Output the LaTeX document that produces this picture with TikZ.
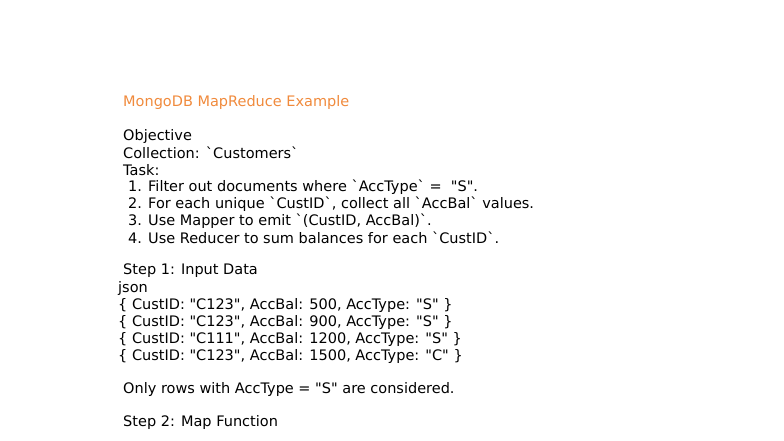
\documentclass[tikz,border=0pt]{standalone}
\usepackage{fontspec}
\newfontfamily\plain{DejaVu Sans}
\definecolor{ttl}{HTML}{F08A3C}
\begin{document}
\begin{tikzpicture}[x=1pt,y=-1pt,
  txt/.style={anchor=west,inner sep=0pt,font=\plain\fontsize{14.5}{16}\selectfont}]
\useasboundingbox (0,0) rectangle (784,441);
\node[txt,text=ttl] (t) at (123,103) {MongoDB MapReduce Example};
\node[txt] (a) at (123,136) {Objective};
\node[txt] (b) at (123,153) {Collection: `Customers`};
\node[txt] (c) at (123,170) {Task:};
\node[txt] (d) at (128,187) {1. Filter out documents where `AccType` = ~"S".};
\node[txt] (e) at (128,204) {2. For each unique `CustID`, collect all `AccBal` values.};
\node[txt] (f) at (128,221) {3. Use Mapper to emit `(CustID, AccBal)`.};
\node[txt] (g) at (128,238) {4. Use Reducer to sum balances for each `CustID`.};
\node[txt] (h) at (123,271) {Step 1: Input Data};
\node[txt] (i) at (118,288) {json};
\node[txt] (j) at (118,305) {\{ CustID: "C123", AccBal: 500, AccType: "S" \}};
\node[txt] (k) at (118,322) {\{ CustID: "C123", AccBal: 900, AccType: "S" \}};
\node[txt] (l) at (118,339) {\{ CustID: "C111", AccBal: 1200, AccType: "S" \}};
\node[txt] (m) at (118,356) {\{ CustID: "C123", AccBal: 1500, AccType: "C" \}};
\node[txt] (n) at (123,389) {Only rows with AccType = "S" are considered.};
\node[txt] (o) at (123,422) {Step 2: Map Function};
\end{tikzpicture}
\end{document}
